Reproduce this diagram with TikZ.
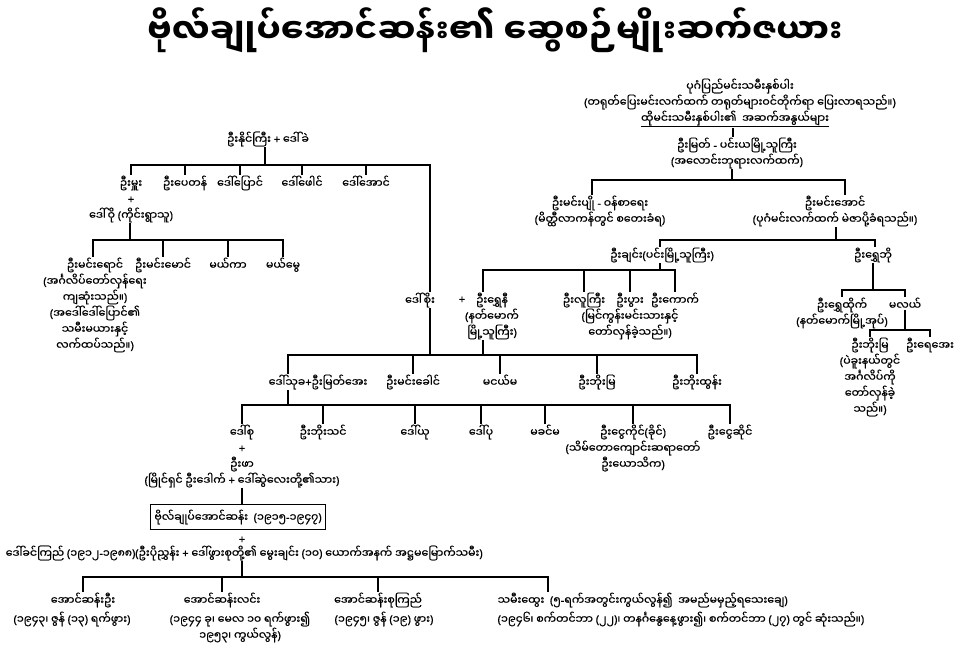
\documentclass[tikz,border=0pt]{standalone}
\usepackage{fontspec}
\newfontfamily\my[Script=Myanmar,FakeBold=0.7]{Noto Sans Myanmar UI}
\newfontfamily\mytitle[Script=Myanmar]{Noto Sans Myanmar UI}
\newfontfamily\latinfont[FakeBold=0.7]{Noto Sans}
\XeTeXinterchartokenstate=1
\newXeTeXintercharclass\pclass
\XeTeXcharclass`\( = \pclass
\XeTeXcharclass`\) = \pclass
\XeTeXcharclass`\+ = \pclass
\XeTeXcharclass`\- = \pclass
\XeTeXinterchartoks 0 \pclass = {\latinfont}
\XeTeXinterchartoks 4095 \pclass = {\latinfont}
\XeTeXinterchartoks \pclass 0 = {\my}
\XeTeXinterchartoks \pclass 4095 = {\my}
\begin{document}
\begin{tikzpicture}[x=1pt,y=-1pt,
  every node/.style={font=\my\fontsize{11}{16}\selectfont, inner sep=0.5pt, align=center, text=black},
  ln/.style={line width=1.8pt, black},
  nm/.style={anchor=north},
]
\useasboundingbox (0,0) rectangle (960,663);
\fill[white] (0,0) rectangle (960,663);
% title
\node[font=\mytitle\fontsize{34}{40}\selectfont\bfseries] (title) at (495,30) {ဗိုလ်ချုပ်အောင်ဆန်း၏ ဆွေစဉ်မျိုးဆက်ဇယား};

% ---------- right tree ----------
\node[nm] (A1) at (740,78) {ပုဂံပြည်မင်းသမီးနှစ်ပါး\\(တရုတ်ပြေးမင်းလက်ထက် တရုတ်များဝင်တိုက်ရာ ပြေးလာရသည်။)};
\node (A3) at (735,119) {\underline{ထိုမင်းသမီးနှစ်ပါး၏ \ အဆက်အနွယ်များ}};
\node[nm] (B) at (737,137) {ဦးမြတ် - ပင်းယမြို့သူကြီး\\(အလောင်းဘုရားလက်ထက်)};
\draw[ln] (A3.south -| 733,0) -- (B.north -| 733,0);
\coordinate (bB) at (732,180);
\draw[ln] (bB |- B.south) -- (bB);
\node[nm] (C1) at (600,195) {ဦးမင်းပျို - ဝန်စာရေး\\(မိတ္ထီလာကန်တွင် စတေးခံရ)};
\node[nm] (C2) at (835,195) {ဦးမင်းအောင်\\(ပုဂံမင်းလက်ထက် မဲဇာပို့ခံရသည်။)};
\draw[ln] (bB) -| (C1.north -| 592,0);
\draw[ln] (bB) -| (C2.north -| 845,0);
\coordinate (bC) at (836,240);
\draw[ln] (bC |- C2.south) -- (bC);
\node[nm] (D1) at (662,247) {ဦးချင်း(ပင်းမြို့သူကြီး)};
\node[nm] (D2) at (873,247) {ဦးရွှေဘို};
\draw[ln] (bC) -| (D1.north -| 660,0);
\draw[ln] (bC) -| (D2.north -| 875,0);
\coordinate (bD) at (660,270);
\draw[ln] (bD |- D1.south) -- (bD);
\node[nm] (E1) at (492,292) {ဦးရွှေနီ\\(နတ်မောက်\\မြို့သူကြီး)};
\node[nm] (E2) at (584,292) {ဦးလူကြီး};
\node[nm] (E3) at (630,292) {ဦးပွား\\(မြင်ကွန်းမင်းသားနှင့်\\တော်လှန်ခဲ့သည်။)};
\node[nm] (E4) at (675,292) {ဦးကောက်};
\draw[ln] (bD) -| (E1.north -| 483,0);
\draw[ln] (bD) -| (E2.north);
\draw[ln] (bD) -| (E3.north);
\draw[ln] (bD) -| (E4.north);
% U Shwe Bo branch
\coordinate (bR) at (873,290);
\draw[ln] (bR |- D2.south) -- (bR);
\node[nm] (R1) at (842,297) {ဦးရွှေထိုက်\\(နတ်မောက်မြို့အုပ်)};
\node[nm] (R2) at (905,297) {မလယ်};
\draw[ln] (bR) -| (R1.north);
\draw[ln] (bR) -| (R2.north);
\coordinate (bS) at (905,330);
\draw[ln] (bS |- R2.south) -- (bS);
\node[nm] (S1) at (870,337) {ဦးဘိုးမြ\\(ပဲခူးနယ်တွင်\\အင်္ဂလိပ်ကို\\တော်လှန်ခဲ့\\သည်။)};
\node[nm] (S2) at (930,337) {ဦးရေအေး};
\draw[ln] (bS) -| (S1.north);
\draw[ln] (bS) -| (S2.north);

% ---------- left tree ----------
\node (N0) at (268,139) {ဦးနိုင်ကြီး + ဒေါ်ခဲ};
\coordinate (bN) at (265,165);
\draw[ln] (bN |- N0.south) -- (bN);
\node[nm] (L1) at (131,175) {ဦးမှူး\\+\\ဒေါ်ဝို (ကိုင်းရွာသူ)};
\node[nm] (L2) at (185,175) {ဦးပေတန်};
\node[nm] (L3) at (240,175) {ဒေါ်ပြောင်};
\node[nm] (L4) at (302,175) {ဒေါ်ဖေါင်};
\node[nm] (L5) at (366,175) {ဒေါ်အောင်};
\foreach \c in {L1,L2,L3,L4,L5} \draw[ln] (bN) -| (\c.north);
\node (SO) at (420,300) {ဒေါ်စိုး};
\node (pl1) at (462,300) {+};
\draw[ln] (bN) -| (SO.north -| 430,0);
\coordinate (bL) at (130,240);
\draw[ln] (bL |- L1.south) -- (bL);
\node[nm] (M1) at (95,257) {ဦးမင်းရောင်\\(အင်္ဂလိပ်တော်လှန်ရေး\\ကျဆုံးသည်။)\\(အဒေါ်ဒေါ်ပြောင်၏\\သမီးမယားနှင့်\\လက်ထပ်သည်။)};
\node[nm] (M2) at (163,257) {ဦးမင်းမောင်};
\node[nm] (M3) at (228,257) {မယ်ကာ};
\node[nm] (M4) at (283,257) {မယ်မွေ};
\draw[ln] (bL) -| (M1.north -| 93,0);
\foreach \c in {M2,M3,M4} \draw[ln] (bL) -| (\c.north);

% ---------- middle ----------
\coordinate (bF) at (430,355);
\draw[ln] (SO.south -| 430,0) -- (bF);
\draw[ln] (E1.south -| 483,0) -- (bF -| 483,0);
\node[nm] (F1) at (318,374) {ဒေါ်သုခ+ဦးမြတ်အေး};
\node[nm] (F2) at (413,374) {ဦးမင်းခေါင်};
\node[nm] (F3) at (500,374) {မငယ်မ};
\node[nm] (F4) at (597,374) {ဦးဘိုးမြ};
\node[nm] (F5) at (697,374) {ဦးဘိုးထွန်း};
\draw[ln] (bF) -| (F1.north -| 288,0);
\foreach \c in {F2,F3,F4,F5} \draw[ln] (bF) -| (\c.north);
\coordinate (bG) at (288,405);
\draw[ln] (bG |- F1.south) -- (bG);
\node[nm] (G1) at (242,424) {ဒေါ်စု\\+\\ဦးဖာ\\(မြိုင်ရှင် ဦးဒေါက် + ဒေါ်ဆွဲလေးတို့၏သား)};
\node[nm] (G2) at (323,424) {ဦးဘိုးသင်};
\node[nm] (G3) at (415,424) {ဒေါ်ယု};
\node[nm] (G4) at (481,424) {ဒေါ်ပု};
\node[nm] (G5) at (545,424) {မခင်မ};
\node[nm] (G6) at (633,424) {ဦးငွေကိုင်(ခိုင်)\\(သိမ်တောကျောင်းဆရာတော်\\ဦးယောသိက)};
\node[nm] (G7) at (730,424) {ဦးငွေဆိုင်};
\foreach \c in {G1,G2,G3,G4,G5,G6,G7} \draw[ln] (bG) -| (\c.north);

\node[draw, line width=1.3pt, minimum width=175pt, minimum height=25pt, inner sep=3pt] (H) at (238,517) {ဗိုလ်ချုပ်အောင်ဆန်း \ (၁၉၁၅-၁၉၄၇)};
\draw[ln] (G1.south -| 242,0) -- (H.north -| 242,0);
\node (pl2) at (242,540) {+};
\node[anchor=west] (K) at (5,553) {ဒေါ်ခင်ကြည် (၁၉၁၂-၁၉၈၈)(ဦးပိုညွှန်း + ဒေါ်ဖွားစုတို့၏ မွေးချင်း (၁၀) ယောက်အနက် အဋ္ဌမမြောက်သမီး)};
\coordinate (bP) at (242,577);
\draw[ln] (K.south -| 242,0) -- (bP);
\node[nm] (P1) at (83,592) {အောင်ဆန်းဦး};
\node[nm] (P2) at (222,592) {အောင်ဆန်းလင်း};
\node[nm] (P3) at (378,592) {အောင်ဆန်းစုကြည်};
\node[anchor=north west] (P4) at (497,592) {သမီးထွေး \ (၅-ရက်အတွင်းကွယ်လွန်၍ \ အမည်မမှည့်ရသေးချေ)};
\draw[ln] (bP) -| (P1.north);
\draw[ln] (bP) -| (P2.north);
\draw[ln] (bP) -| (P3.north);
\draw[ln] (bP) -| (P4.north west -| 548,0);
\node[anchor=north] (P1d) at (72,611) {(၁၉၄၃၊ ဇွန် (၁၃) ရက်ဖွား)};
\node[anchor=north] (P2d) at (240,611) {(၁၉၄၄ ခု၊ မေလ ၁၀ ရက်ဖွား၍\\၁၉၅၃၊ ကွယ်လွန်)};
\node[anchor=north] (P3d) at (384,611) {(၁၉၄၅၊ ဇွန် (၁၉) ဖွား)};
\node[anchor=north west] (P4d) at (497,611) {(၁၉၄၆၊ စက်တင်ဘာ (၂၂)၊ တနင်္ဂနွေနေ့ဖွား၍၊ စက်တင်ဘာ (၂၇) တွင် ဆုံးသည်။)};
\end{tikzpicture}
\end{document}
